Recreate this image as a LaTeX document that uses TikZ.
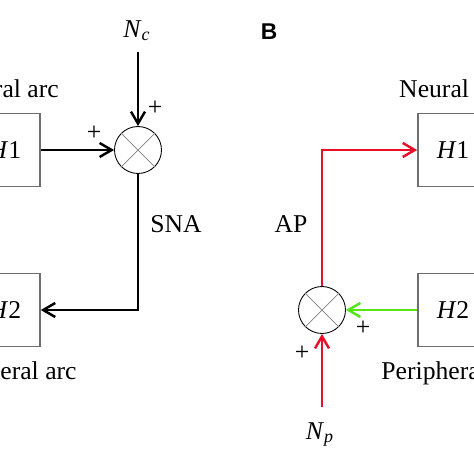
\documentclass[tikz,border=0pt]{standalone}
\usepackage{fontspec}
\setmainfont{Liberation Serif}
\setsansfont{Liberation Sans}
\usepackage{tikz}
\usetikzlibrary{arrows.meta,calc,positioning}
\definecolor{arcred}{RGB}{232,16,40}
\definecolor{arcgreen}{RGB}{84,230,24}
\definecolor{boxgray}{RGB}{110,110,110}

\begin{document}
\begin{tikzpicture}[x=0.02cm,y=-0.02cm,font=\fontsize{14.6}{17}\selectfont,
    blk/.style={draw=boxgray,line width=0.9pt,minimum width=1.4cm,minimum height=1.46cm,inner sep=0pt},
    sumnode/.style={draw,circle,line width=0.5pt,minimum size=0.94cm,inner sep=0pt},
    arr/.style={line width=1.4pt,-{Straight Barb[length=0.24cm,width=0.28cm]}},
    lbl/.style={anchor=base,inner sep=0pt}]
        \useasboundingbox (0,0) rectangle (474,474);
        % panel A
        \node[blk] (h1a) at (5,150) {\textit{H}1};
        \node[blk] (h2a) at (5,310) {\textit{H}2};
        \node[sumnode] (suma) at (138,150) {};
        \draw[gray,line width=0.4pt] (suma.45)--(suma.225) (suma.135)--(suma.315);
        \node[lbl] (nc) at (137,37) {\textit{N}\textsubscript{\textit{c}}};
        \node[lbl] (na) at (5,97) {Neural arc};
        \node[lbl] (pa) at (5,379) {Peripheral arc};
        \node[lbl] (sna) at (176,232) {SNA};
        \node (pla1) at (155,108) {+};
        \node (pla2) at (94,133) {+};
        \coordinate (ncend) at (138,52);
        \draw[arr] (ncend) -- (suma);
        \draw[arr] (h1a) -- (suma);
        \draw[arr] (suma) |- (h2a);
        % panel B
        \node[font=\sffamily\bfseries\fontsize{13}{15}\selectfont] (lb) at (269,32) {B};
        \node[blk] (h1b) at (453,150) {\textit{H}1};
        \node[blk] (h2b) at (453,310) {\textit{H}2};
        \node[sumnode] (sumb) at (322,310) {};
        \draw[gray,line width=0.4pt] (sumb.45)--(sumb.225) (sumb.135)--(sumb.315);
        \node[lbl] (np) at (320,439) {\textit{N}\textsubscript{\textit{p}}};
        \node[lbl] (nb) at (453,97) {Neural arc};
        \node[lbl] (pb) at (453,379) {Peripheral arc};
        \node[lbl] (ap) at (291,232) {AP};
        \node (plb1) at (363,328) {+};
        \node (plb2) at (302,353) {+};
        \coordinate (npend) at (322,407);
        \draw[arr,arcred] (sumb) |- (h1b);
        \draw[arr,arcgreen] (h2b) -- (sumb);
        \draw[arr,arcred] (npend) -- (sumb);
      \end{tikzpicture}
\end{document}
